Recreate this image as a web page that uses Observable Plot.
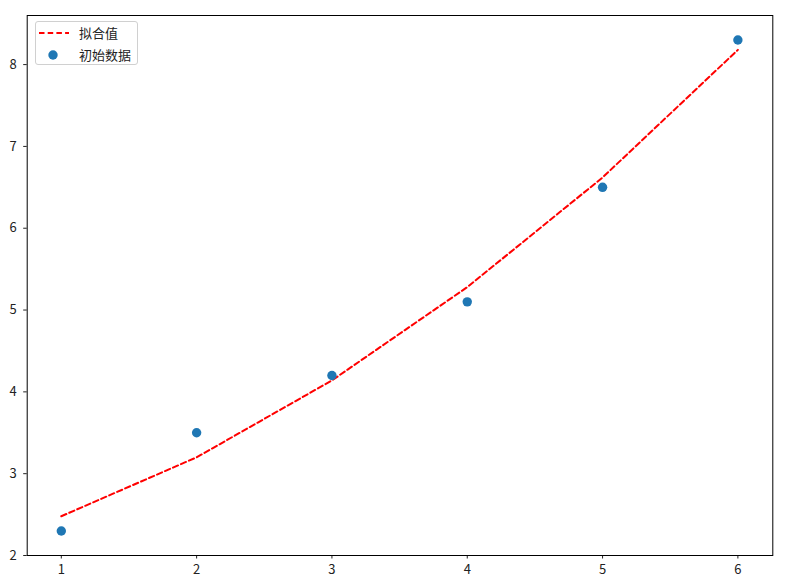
<!DOCTYPE html>
<html><head><meta charset="utf-8">
<script src="https://cdn.jsdelivr.net/npm/d3@7"></script>
<script src="https://cdn.jsdelivr.net/npm/@observablehq/plot@0.6"></script>
<style>
body{margin:0;background:#fff;font-family:"Noto Sans CJK SC","DejaVu Sans",sans-serif;}
#wrap{position:relative;width:788px;height:586px;}
#legend{position:absolute;left:35px;top:21px;width:101px;height:42px;border:1px solid #d0d0d0;border-radius:3px;background:rgba(255,255,255,0.85);font-size:13px;color:#222;}
.row{position:absolute;left:0;height:20px;width:100%;}
.row span{position:absolute;left:43px;top:0;line-height:20px;}
.row svg{position:absolute;left:2px;top:0;}
</style>
</head><body>
<div id="wrap"><div id="chart"></div>
<div id="legend">
  <div class="row" style="top:1px"><svg width="32" height="20"><line x1="1" y1="10" x2="31" y2="10" stroke="red" stroke-width="2" stroke-dasharray="5.5,3.2"/></svg><span>拟合值</span></div>
  <div class="row" style="top:23px"><svg width="32" height="20"><circle cx="15" cy="10" r="4.7" fill="#1f77b4"/></svg><span>初始数据</span></div>
</div>
</div>
<script>
const xs = [1, 2, 3, 4, 5, 6];
const observed = [2.3, 3.5, 4.2, 5.1, 6.5, 8.3];
const fitted = [2.48, 3.20, 4.14, 5.28, 6.62, 8.18];
const xTicks = [1, 2, 3, 4, 5, 6];
const yTicks = [2, 3, 4, 5, 6, 7, 8];

const obsData = xs.map((x, i) => ({x, y: observed[i]}));
const fitData = xs.map((x, i) => ({x, y: fitted[i]}));

const chart = Plot.plot({
  width: 788,
  height: 586,
  marginLeft: 26.7,
  marginRight: 15.7,
  marginTop: 15,
  marginBottom: 31,
  style: {fontFamily: '"Noto Sans CJK SC","DejaVu Sans",sans-serif', fontSize: "13px", color: "#222", background: "#fff"},
  x: {domain: [0.748, 6.258]},
  y: {domain: [2, 8.6]},
  marks: [
    Plot.axisX({ticks: xTicks, tickSize: 3.5, tickPadding: 6, label: null, fontSize: 13, tickFormat: d => String(d)}),
    Plot.axisY({ticks: yTicks, tickSize: 3.5, tickPadding: 7, label: null, fontSize: 13, tickFormat: d => String(d)}),
    Plot.line(fitData, {x: "x", y: "y", stroke: "red", strokeWidth: 2, strokeDasharray: "5.5,3.2"}),
    Plot.dot(obsData, {x: "x", y: "y", fill: "#1f77b4", r: 4.7}),
    Plot.frame({stroke: "black", strokeWidth: 1})
  ]
});
document.getElementById("chart").appendChild(chart);
</script>
</body></html>
